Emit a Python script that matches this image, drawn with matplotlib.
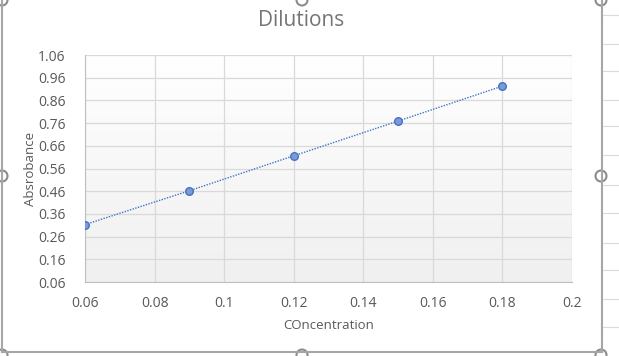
import numpy as np
import matplotlib

matplotlib.use("Agg")
import matplotlib.pyplot as plt
from matplotlib.patches import Ellipse
from matplotlib.lines import Line2D

# data
concentration = [0.06, 0.09, 0.12, 0.15, 0.18]
absorbance = [0.313, 0.462, 0.616, 0.769, 0.923]

x_ticks = [0.06, 0.08, 0.1, 0.12, 0.14, 0.16, 0.18, 0.2]
x_labels = ["0.06", "0.08", "0.1", "0.12", "0.14", "0.16", "0.18", "0.2"]
y_ticks = [0.06, 0.16, 0.26, 0.36, 0.46, 0.56, 0.66, 0.76, 0.86, 0.96, 1.06]

plt.rcParams["font.family"] = ["Open Sans", "DejaVu Sans"]
TXT = "#595959"

fig = plt.figure(figsize=(6.19, 3.56), dpi=100)
ax = fig.add_axes([85 / 619, 1 - 282 / 356, 487 / 619, 227 / 356])

# light gradient fill of the plot area (white top -> light grey bottom)
grad = np.linspace(1.0, 0.0, 256).reshape(-1, 1)
ax.imshow(grad, extent=[0, 1, 0, 1], transform=ax.transAxes, aspect="auto",
          cmap=matplotlib.colors.LinearSegmentedColormap.from_list("g", ["#f0f0f0", "#ffffff"]),
          vmin=0, vmax=1, zorder=0)

ax.plot(concentration, absorbance, color="#4472c4", lw=1.0, ls=(0, (1, 1)), zorder=3)
ax.scatter(concentration, absorbance, s=30, color="#7b9bd6", edgecolor="#4472c4",
           linewidth=1.0, zorder=4)

ax.set_xlim(0.06, 0.2)
ax.set_ylim(0.06, 1.06)
ax.set_xticks(x_ticks)
ax.set_xticklabels(x_labels)
ax.set_yticks(y_ticks)
ax.set_yticklabels([f"{v:.2f}" for v in y_ticks])
ax.grid(True, color="#d9d9d9", lw=0.9, zorder=1)
ax.set_axisbelow(True)
ax.tick_params(length=0, labelsize=10, colors=TXT)
ax.tick_params(axis="x", pad=10)
ax.tick_params(axis="y", pad=14)
for s in ["top", "right"]:
    ax.spines[s].set_visible(False)
for s in ["left", "bottom"]:
    ax.spines[s].set_color("#bfbfbf")
ax.set_xlabel("COncentration", fontsize=9.5, color=TXT, labelpad=6)
ax.set_ylabel("Absrobance", fontsize=9.5, color=TXT, labelpad=1)

fig.text(301 / 619, 1 - 21 / 356, "Dilutions", ha="center", va="center",
         fontsize=15, color="#757575")

# chart frame from the screenshot, with selection handles
W, H = 619, 356
fx = lambda px: px / W
fy = lambda py: 1 - py / H
frame = "#a6a6a6"
fig.add_artist(Line2D([fx(1.5), fx(1.5)], [fy(0), fy(352)], color=frame, lw=1.5))
fig.add_artist(Line2D([fx(602), fx(602)], [fy(0), fy(352)], color=frame, lw=1.5))
fig.add_artist(Line2D([fx(1.5), fx(602)], [fy(352), fy(352)], color=frame, lw=1.5))
# spreadsheet cell lines beyond the frame
for py in [15, 44, 71, 100, 126, 155, 185, 213, 243, 270, 299, 327]:
    fig.add_artist(Line2D([fx(603), fx(619)], [fy(py), fy(py)], color="#dadada", lw=0.8))
for (px, py) in [(2, 0), (302, 0), (601, 0), (2, 176), (601, 176), (2, 355), (302, 355), (601, 355)]:
    fig.add_artist(Ellipse((fx(px), fy(py)), 11 / W, 11 / H, transform=fig.transFigure,
                           facecolor="white", edgecolor="#8c8c8c", lw=1.5))

fig.savefig("out.png", dpi=100)
